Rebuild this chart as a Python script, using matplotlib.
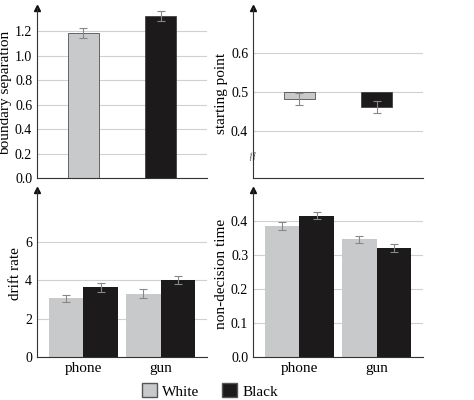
import matplotlib
matplotlib.use("Agg")
import matplotlib.pyplot as plt
from matplotlib.patches import Patch
import numpy as np

plt.rcParams['font.family'] = ['Liberation Serif', 'DejaVu Serif']

groups = ["phone", "gun"]
races = ["White", "Black"]
colors = ["#c8c9cb", "#1c1a1b"]

boundary = [1.185, 1.325]
boundary_err = [0.04, 0.04]
start = [0.482, 0.462]
start_err = [0.015, 0.016]
drift_white = [3.05, 3.30]
drift_black = [3.63, 4.02]
drift_err_white = [0.2, 0.22]
drift_err_black = [0.22, 0.22]
ndt_white = [0.385, 0.345]
ndt_black = [0.415, 0.320]
ndt_err_white = [0.012, 0.011]
ndt_err_black = [0.011, 0.011]

W, H = 474, 400
fig = plt.figure(figsize=(W/100, H/100), dpi=100)

def ax_at(x0, x1, y0, y1):
    return fig.add_axes([x0/W, 1-y1/H, (x1-x0)/W, (y1-y0)/H])

def style(ax):
    ax.spines['top'].set_visible(False)
    ax.spines['right'].set_visible(False)
    ax.spines['left'].set_color('#333333')
    ax.spines['bottom'].set_color('#333333')
    ax.tick_params(length=0, labelsize=10)
    ax.yaxis.grid(True, color='#d0d0d0', lw=0.8)
    ax.set_axisbelow(True)
    ax.plot(0, 1, marker='^', color='#111111', ms=4, transform=ax.transAxes, clip_on=False)
    ax.set_xlim(-0.6, 1.6)

ek = dict(ecolor='#888888', elinewidth=0.8, capsize=3, capthick=0.8)
x = np.arange(len(groups))

a1 = ax_at(37, 207, 8, 178)
style(a1)
a1.bar(x, boundary, width=0.4, color=colors, edgecolor='#333333', lw=0.5, yerr=boundary_err, error_kw=ek)
a1.set_ylim(0, 1.39)
a1.set_yticks([0, 0.2, 0.4, 0.6, 0.8, 1.0, 1.2])
a1.set_yticklabels(["0.0", "0.2", "0.4", "0.6", "0.8", "1.0", "1.2"])
a1.set_xticks([])
a1.set_ylabel("boundary separation", fontsize=11, labelpad=2)

a2 = ax_at(253, 423, 8, 178)
style(a2)
a2.bar(x, np.array(start) - 0.5, bottom=0.5, width=0.4, color=colors, edgecolor='#333333', lw=0.5,
       yerr=start_err, error_kw=ek)
a2.set_ylim(0.28, 0.715)
a2.set_yticks([0.4, 0.5, 0.6])
a2.set_xticks([])
a2.set_ylabel("starting point", fontsize=11, labelpad=2)
a2.text(0, 0.12, "//", transform=a2.transAxes, ha='center', va='center', fontsize=9, rotation=10)

a3 = ax_at(37, 207, 190, 357)
style(a3)
a3.bar(x - 0.225, drift_white, width=0.45, color=colors[0], yerr=drift_err_white, error_kw=ek)
a3.bar(x + 0.225, drift_black, width=0.45, color=colors[1], yerr=drift_err_black, error_kw=ek)
a3.set_ylim(0, 8.7)
a3.set_yticks([0, 2, 4, 6])
a3.set_xticks(x)
a3.set_xticklabels(groups, fontsize=11)
a3.set_ylabel("drift rate", fontsize=11, labelpad=2)

a4 = ax_at(253, 423, 190, 357)
style(a4)
a4.bar(x - 0.225, ndt_white, width=0.45, color=colors[0], yerr=ndt_err_white, error_kw=ek)
a4.bar(x + 0.225, ndt_black, width=0.45, color=colors[1], yerr=ndt_err_black, error_kw=ek)
a4.set_ylim(0, 0.49)
a4.set_yticks([0, 0.1, 0.2, 0.3, 0.4])
a4.set_yticklabels(["0.0", "0.1", "0.2", "0.3", "0.4"])
a4.set_xticks(x)
a4.set_xticklabels(groups, fontsize=11)
a4.set_ylabel("non-decision time", fontsize=11, labelpad=2)

handles = [Patch(facecolor=c, edgecolor='#555555', label=r) for c, r in zip(colors, races)]
fig.legend(handles=handles, loc='center', bbox_to_anchor=(210/W, 1-391/H), ncol=2, frameon=False,
           fontsize=11, handlelength=1.0, handleheight=1.0, handletextpad=0.3, columnspacing=1.5)

fig.savefig("out.png", dpi=100)
